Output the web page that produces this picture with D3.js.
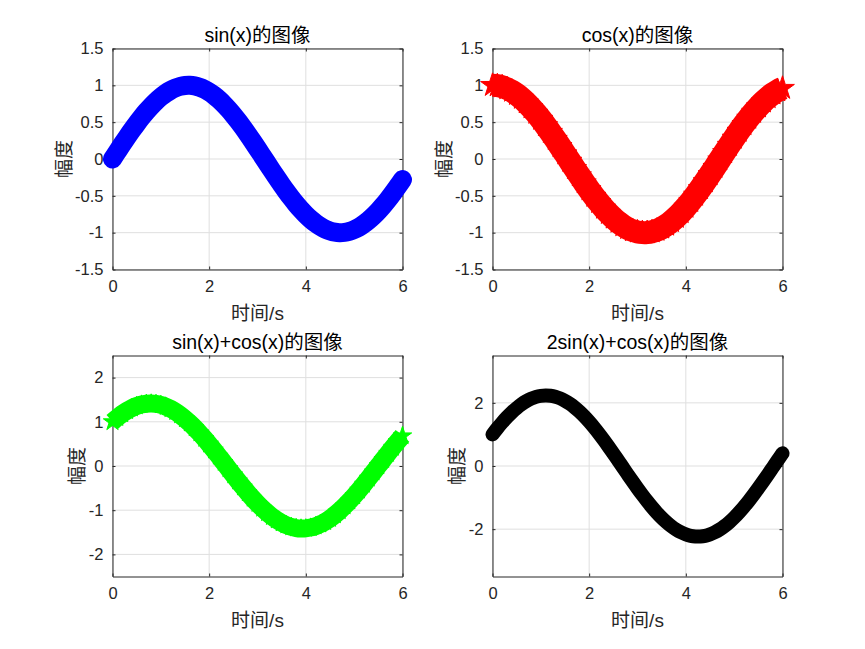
<!DOCTYPE html>
<html><head><meta charset="utf-8">
<script src="https://cdn.jsdelivr.net/npm/d3@7"></script>
<style>body{margin:0;background:#fff}svg{display:block}</style>
</head><body>
<svg id="c" width="865" height="649"></svg>
<script>
// ---------- data ----------
const xValues = [0,0.1,0.2,0.3,0.4,0.5,0.6,0.7,0.8,0.9,1.0,1.1,1.2,1.3,1.4,1.5,1.6,1.7,1.8,1.9,2.0,2.1,2.2,2.3,2.4,2.5,2.6,2.7,2.8,2.9,3.0,3.1,3.2,3.3,3.4,3.5,3.6,3.7,3.8,3.9,4.0,4.1,4.2,4.3,4.4,4.5,4.6,4.7,4.8,4.9,5.0,5.1,5.2,5.3,5.4,5.5,5.6,5.7,5.8,5.9,6.0];
const sinValues = [0,0.0998,0.1987,0.2955,0.3894,0.4794,0.5646,0.6442,0.7174,0.7833,0.8415,0.8912,0.9320,0.9636,0.9854,0.9975,0.9996,0.9917,0.9738,0.9463,0.9093,0.8632,0.8085,0.7457,0.6755,0.5985,0.5155,0.4274,0.3350,0.2392,0.1411,0.0416,-0.0584,-0.1577,-0.2555,-0.3508,-0.4425,-0.5298,-0.6119,-0.6878,-0.7568,-0.8183,-0.8716,-0.9162,-0.9516,-0.9775,-0.9937,-0.9999,-0.9962,-0.9825,-0.9589,-0.9258,-0.8835,-0.8323,-0.7728,-0.7055,-0.6313,-0.5507,-0.4646,-0.3739,-0.2794];
const cosValues = [1,0.9950,0.9801,0.9553,0.9211,0.8776,0.8253,0.7648,0.6967,0.6216,0.5403,0.4536,0.3624,0.2675,0.1700,0.0707,-0.0292,-0.1288,-0.2272,-0.3233,-0.4161,-0.5048,-0.5885,-0.6663,-0.7374,-0.8011,-0.8569,-0.9041,-0.9422,-0.9710,-0.9900,-0.9991,-0.9983,-0.9875,-0.9668,-0.9365,-0.8968,-0.8481,-0.7910,-0.7259,-0.6536,-0.5748,-0.4903,-0.4008,-0.3073,-0.2108,-0.1122,-0.0124,0.0875,0.1865,0.2837,0.3780,0.4685,0.5544,0.6347,0.7087,0.7756,0.8347,0.8855,0.9275,0.9602];
const sinPlusCosValues = [1.0000,1.0948,1.1788,1.2508,1.3105,1.3570,1.3899,1.4090,1.4141,1.4049,1.3818,1.3448,1.2944,1.2311,1.1554,1.0682,0.9704,0.8629,0.7466,0.6230,0.4932,0.3584,0.2200,0.0794,-0.0619,-0.2026,-0.3414,-0.4767,-0.6072,-0.7318,-0.8489,-0.9575,-1.0567,-1.1452,-1.2223,-1.2873,-1.3393,-1.3779,-1.4029,-1.4137,-1.4104,-1.3931,-1.3619,-1.3170,-1.2589,-1.1883,-1.1059,-1.0123,-0.9087,-0.7960,-0.6752,-0.5478,-0.4150,-0.2779,-0.1381,0.0032,0.1443,0.2840,0.4209,0.5536,0.6808];
const twoSinPlusCosValues = [1.0000,1.1946,1.3775,1.5463,1.6999,1.8364,1.9545,2.0532,2.1315,2.1882,2.2233,2.2360,2.2264,2.1947,2.1408,2.0657,1.9700,1.8546,1.7204,1.5693,1.4025,1.2216,1.0285,0.8251,0.6136,0.3959,0.1741,-0.0493,-0.2722,-0.4926,-0.7078,-0.9159,-1.1151,-1.3029,-1.4778,-1.6381,-1.7818,-1.9077,-2.0148,-2.1015,-2.1672,-2.2114,-2.2335,-2.2332,-2.2105,-2.1658,-2.0996,-2.0122,-1.9049,-1.7785,-1.6341,-1.4736,-1.2985,-1.1102,-0.9109,-0.7023,-0.4870,-0.2667,-0.0437,0.1797,0.4014];

const xTicks = [0,2,4,6];
const yTicksA = [-1.5,-1,-0.5,0,0.5,1,1.5];
const yTicksC = [-2,-1,0,1,2];
const yTicksD = [-2,0,2];
const titles = ["sin(x)的图像","cos(x)的图像","sin(x)+cos(x)的图像","2sin(x)+cos(x)的图像"];
const xLabel = "时间/s";
const yLabel = "幅度";

// ---------- layout / style ----------
const panels = [
  {vals: sinValues, title: titles[0], yDom:[-1.5,1.5], yTicks:yTicksA, color:"#0000ff", marker:"circle", w:19, col:0, row:0},
  {vals: cosValues, title: titles[1], yDom:[-1.5,1.5], yTicks:yTicksA, color:"#ff0000", marker:"star", w:23, starSize:175, col:1, row:0},
  {vals: sinPlusCosValues, title: titles[2], yDom:[-2.5,2.5], yTicks:yTicksC, color:"#00ff00", marker:"star", w:18, starSize:105, col:0, row:1},
  {vals: twoSinPlusCosValues, title: titles[3], yDom:[-3.5,3.5], yTicks:yTicksD, color:"#000000", marker:"circle", w:14, col:1, row:1}
];
const colX = [112.5, 492.5], rowY = [48.5, 355.5];
const W = 290, H = 221;
const axisColor = "#262626", gridColor = "#dfdfdf";
const fontLatin = "'Liberation Sans', Arial, 'Noto Sans CJK SC', sans-serif";
const tickFont = "16.5px", labelFont = "19px", titleFont = "19.5px";

const svg = d3.select("#c");

panels.forEach(p => {
  const x0 = colX[p.col], y0 = rowY[p.row];
  const xs = d3.scaleLinear().domain([0,6]).range([x0, x0+W]);
  const ys = d3.scaleLinear().domain(p.yDom).range([y0+H, y0]);
  const g = svg.append("g");

  // grid
  g.selectAll(".gx").data(xTicks).join("line")
    .attr("x1", d=>xs(d)).attr("x2", d=>xs(d)).attr("y1", y0).attr("y2", y0+H)
    .attr("stroke", gridColor).attr("stroke-width",1);
  g.selectAll(".gy").data(p.yTicks).join("line")
    .attr("y1", d=>ys(d)).attr("y2", d=>ys(d)).attr("x1", x0).attr("x2", x0+W)
    .attr("stroke", gridColor).attr("stroke-width",1);

  // axes (box with inward ticks, mirrored)
  const tl = 3;
  const axB = d3.axisBottom(xs).tickValues(xTicks).tickSizeInner(-tl).tickSizeOuter(0).tickPadding(tl+8).tickFormat(d=>String(d));
  const axT = d3.axisTop(xs).tickValues(xTicks).tickSizeInner(-tl).tickSizeOuter(0).tickFormat("");
  const axL = d3.axisLeft(ys).tickValues(p.yTicks).tickSizeInner(-tl).tickSizeOuter(0).tickPadding(tl+6).tickFormat(d=>String(d));
  const axR = d3.axisRight(ys).tickValues(p.yTicks).tickSizeInner(-tl).tickSizeOuter(0).tickFormat("");
  const gb = g.append("g").attr("transform",`translate(0,${y0+H})`).call(axB);
  const gt = g.append("g").attr("transform",`translate(0,${y0})`).call(axT);
  const gl = g.append("g").attr("transform",`translate(${x0},0)`).call(axL);
  const gr = g.append("g").attr("transform",`translate(${x0+W},0)`).call(axR);
  [gb,gt,gl,gr].forEach(a => {
    a.attr("font-size", null).attr("font-family", null);
    a.selectAll("path,line").attr("stroke", axisColor);
    a.selectAll("text").attr("fill", axisColor).style("font-family", fontLatin).style("font-size", tickFont);
  });
  gb.selectAll("text").attr("dy","0.71em");

  // title
  g.append("text").attr("x", x0+W/2).attr("y", y0-7).attr("text-anchor","middle")
    .style("font-family", fontLatin).style("font-size", titleFont).attr("fill","#000").text(p.title);
  // x label
  g.append("text").attr("x", x0+W/2).attr("y", y0+H+50).attr("text-anchor","middle")
    .style("font-family", fontLatin).style("font-size", labelFont).attr("fill",axisColor).text(xLabel);
  // y label
  let maxW = 0;
  gl.selectAll("text").each(function(){ maxW = Math.max(maxW, this.getComputedTextLength()); });
  const lx = x0 - tl - 6 - maxW - 11;
  g.append("text").attr("transform",`translate(${lx},${y0+H/2}) rotate(-90)`)
    .attr("text-anchor","middle").attr("dominant-baseline","central")
    .style("font-family", fontLatin).style("font-size", labelFont).attr("fill",axisColor).text(yLabel);

  // data
  const pts = xValues.map((xv,i)=>[xv, p.vals[i]]);
  const line = d3.line().x(d=>xs(d[0])).y(d=>ys(d[1])).curve(d3.curveCatmullRom);
  g.append("path").datum(pts).attr("d", line).attr("fill","none")
    .attr("stroke", p.color).attr("stroke-width", p.w)
    .attr("stroke-linecap", p.marker==="circle" ? "round" : "butt")
    .attr("stroke-linejoin","round");
  if (p.marker === "star") {
    const sym = d3.symbol().type(d3.symbolStar).size(p.starSize);
    g.selectAll(".m").data(pts).join("path")
      .attr("transform", d=>`translate(${xs(d[0])},${ys(d[1])})`)
      .attr("d", sym).attr("fill", p.color).attr("stroke", p.color).attr("stroke-width",1);
  }
});
</script>
</body></html>
